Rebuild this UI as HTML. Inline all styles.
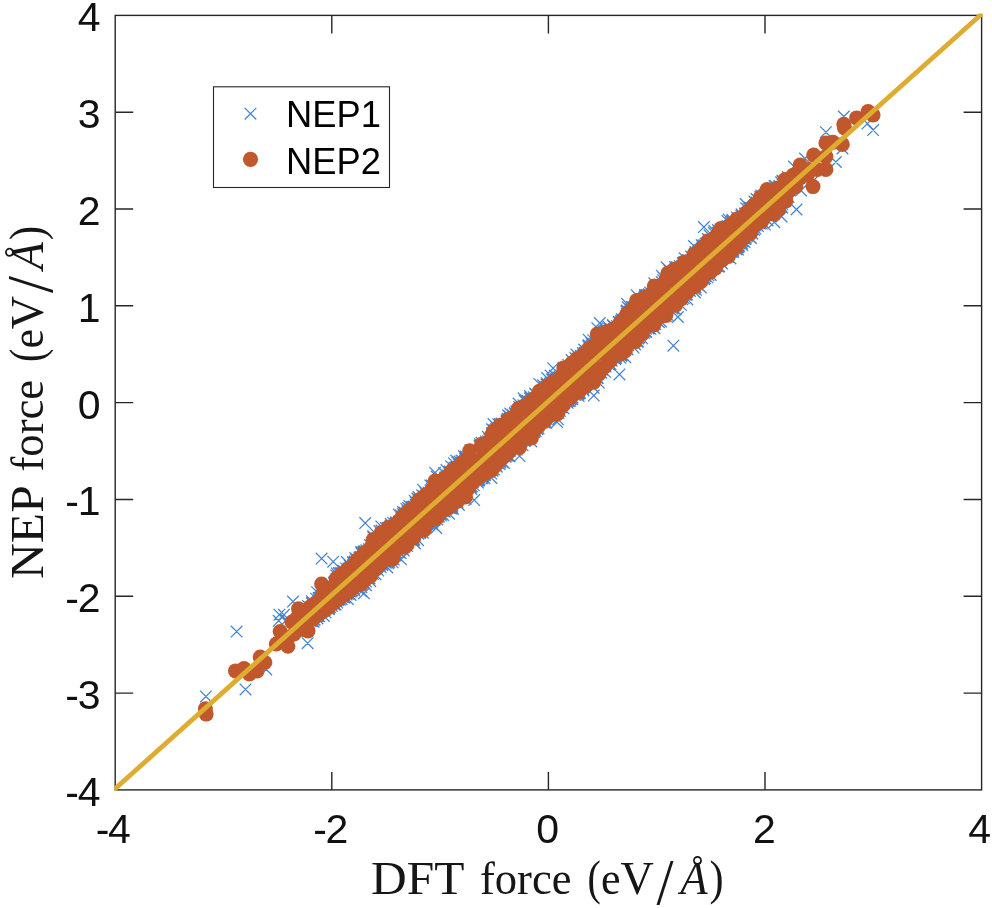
<!DOCTYPE html>
<html lang="en"><head><meta charset="utf-8"><title>NEP force vs DFT force</title>
<style>
html,body{margin:0;padding:0;background:#fff;}
body{width:992px;height:908px;overflow:hidden;}
svg{display:block;}
.tk{font-family:"Liberation Sans",Arial,Helvetica,sans-serif;font-size:41.0px;fill:#111;}
.lg{font-family:"Liberation Sans",Arial,Helvetica,sans-serif;font-size:36.3px;fill:#000;}
.lb{font-family:"Liberation Serif","Times New Roman",serif;font-size:45.8px;fill:#161616;}
.it{font-style:italic;}
</style></head><body>
<svg width="992" height="908" viewBox="0 0 992 908">
<rect x="0" y="0" width="992" height="908" fill="#fff"/>
<path d="M733.0 237.0l11.6 11.6m-11.6 0l11.6 -11.6M363.3 543.4l11.6 11.6m-11.6 0l11.6 -11.6M406.6 502.1l11.6 11.6m-11.6 0l11.6 -11.6M540.7 378.9l11.6 11.6m-11.6 0l11.6 -11.6M660.8 261.5l11.6 11.6m-11.6 0l11.6 -11.6M743.3 202.8l11.6 11.6m-11.6 0l11.6 -11.6M645.8 289.2l11.6 11.6m-11.6 0l11.6 -11.6M524.1 392.5l11.6 11.6m-11.6 0l11.6 -11.6M312.4 609.9l11.6 11.6m-11.6 0l11.6 -11.6M357.7 545.8l11.6 11.6m-11.6 0l11.6 -11.6M409.3 501.1l11.6 11.6m-11.6 0l11.6 -11.6M421.5 518.0l11.6 11.6m-11.6 0l11.6 -11.6M632.3 332.6l11.6 11.6m-11.6 0l11.6 -11.6M725.5 245.2l11.6 11.6m-11.6 0l11.6 -11.6M752.1 220.2l11.6 11.6m-11.6 0l11.6 -11.6M532.8 422.6l11.6 11.6m-11.6 0l11.6 -11.6M735.7 237.4l11.6 11.6m-11.6 0l11.6 -11.6M492.0 457.2l11.6 11.6m-11.6 0l11.6 -11.6M576.2 351.4l11.6 11.6m-11.6 0l11.6 -11.6M490.4 423.0l11.6 11.6m-11.6 0l11.6 -11.6M586.1 380.0l11.6 11.6m-11.6 0l11.6 -11.6M340.3 562.6l11.6 11.6m-11.6 0l11.6 -11.6M561.2 395.9l11.6 11.6m-11.6 0l11.6 -11.6M412.5 528.0l11.6 11.6m-11.6 0l11.6 -11.6M451.8 496.9l11.6 11.6m-11.6 0l11.6 -11.6M564.6 393.7l11.6 11.6m-11.6 0l11.6 -11.6M572.7 351.8l11.6 11.6m-11.6 0l11.6 -11.6M419.7 487.3l11.6 11.6m-11.6 0l11.6 -11.6M703.0 234.0l11.6 11.6m-11.6 0l11.6 -11.6M503.9 445.3l11.6 11.6m-11.6 0l11.6 -11.6M319.7 606.5l11.6 11.6m-11.6 0l11.6 -11.6M607.3 350.8l11.6 11.6m-11.6 0l11.6 -11.6M332.7 570.9l11.6 11.6m-11.6 0l11.6 -11.6M669.1 261.1l11.6 11.6m-11.6 0l11.6 -11.6M540.1 417.2l11.6 11.6m-11.6 0l11.6 -11.6M495.8 417.8l11.6 11.6m-11.6 0l11.6 -11.6M607.4 320.2l11.6 11.6m-11.6 0l11.6 -11.6M596.0 364.0l11.6 11.6m-11.6 0l11.6 -11.6M471.0 475.8l11.6 11.6m-11.6 0l11.6 -11.6M646.7 288.0l11.6 11.6m-11.6 0l11.6 -11.6M617.0 314.2l11.6 11.6m-11.6 0l11.6 -11.6M636.3 332.5l11.6 11.6m-11.6 0l11.6 -11.6M344.8 589.1l11.6 11.6m-11.6 0l11.6 -11.6M621.2 308.3l11.6 11.6m-11.6 0l11.6 -11.6M500.7 415.8l11.6 11.6m-11.6 0l11.6 -11.6M739.6 233.2l11.6 11.6m-11.6 0l11.6 -11.6M518.6 435.3l11.6 11.6m-11.6 0l11.6 -11.6M486.2 423.5l11.6 11.6m-11.6 0l11.6 -11.6M440.7 464.3l11.6 11.6m-11.6 0l11.6 -11.6M421.8 516.4l11.6 11.6m-11.6 0l11.6 -11.6M483.5 433.5l11.6 11.6m-11.6 0l11.6 -11.6M338.7 591.9l11.6 11.6m-11.6 0l11.6 -11.6M439.2 471.9l11.6 11.6m-11.6 0l11.6 -11.6M586.6 339.9l11.6 11.6m-11.6 0l11.6 -11.6M776.8 175.6l11.6 11.6m-11.6 0l11.6 -11.6M638.8 325.3l11.6 11.6m-11.6 0l11.6 -11.6M577.7 384.7l11.6 11.6m-11.6 0l11.6 -11.6M516.3 434.6l11.6 11.6m-11.6 0l11.6 -11.6M433.0 510.3l11.6 11.6m-11.6 0l11.6 -11.6M397.2 506.3l11.6 11.6m-11.6 0l11.6 -11.6M670.4 262.2l11.6 11.6m-11.6 0l11.6 -11.6M395.0 509.7l11.6 11.6m-11.6 0l11.6 -11.6M306.0 595.4l11.6 11.6m-11.6 0l11.6 -11.6M583.5 342.5l11.6 11.6m-11.6 0l11.6 -11.6M525.6 435.6l11.6 11.6m-11.6 0l11.6 -11.6M626.6 302.9l11.6 11.6m-11.6 0l11.6 -11.6M445.3 502.8l11.6 11.6m-11.6 0l11.6 -11.6M397.2 508.4l11.6 11.6m-11.6 0l11.6 -11.6M324.2 601.2l11.6 11.6m-11.6 0l11.6 -11.6M592.0 372.1l11.6 11.6m-11.6 0l11.6 -11.6M627.8 341.8l11.6 11.6m-11.6 0l11.6 -11.6M362.6 572.9l11.6 11.6m-11.6 0l11.6 -11.6M387.4 517.1l11.6 11.6m-11.6 0l11.6 -11.6M772.3 181.9l11.6 11.6m-11.6 0l11.6 -11.6M429.3 466.9l11.6 11.6m-11.6 0l11.6 -11.6M661.5 309.0l11.6 11.6m-11.6 0l11.6 -11.6M306.4 614.5l11.6 11.6m-11.6 0l11.6 -11.6M538.7 382.3l11.6 11.6m-11.6 0l11.6 -11.6M377.0 557.8l11.6 11.6m-11.6 0l11.6 -11.6M610.4 350.5l11.6 11.6m-11.6 0l11.6 -11.6M587.0 339.9l11.6 11.6m-11.6 0l11.6 -11.6M330.5 569.6l11.6 11.6m-11.6 0l11.6 -11.6M475.7 437.0l11.6 11.6m-11.6 0l11.6 -11.6M330.9 594.8l11.6 11.6m-11.6 0l11.6 -11.6M585.9 339.7l11.6 11.6m-11.6 0l11.6 -11.6M754.5 191.0l11.6 11.6m-11.6 0l11.6 -11.6M615.6 347.9l11.6 11.6m-11.6 0l11.6 -11.6M348.4 584.5l11.6 11.6m-11.6 0l11.6 -11.6M311.6 597.1l11.6 11.6m-11.6 0l11.6 -11.6M761.8 214.6l11.6 11.6m-11.6 0l11.6 -11.6M546.1 373.6l11.6 11.6m-11.6 0l11.6 -11.6M662.2 262.7l11.6 11.6m-11.6 0l11.6 -11.6M749.3 218.4l11.6 11.6m-11.6 0l11.6 -11.6M388.0 553.8l11.6 11.6m-11.6 0l11.6 -11.6M369.6 568.4l11.6 11.6m-11.6 0l11.6 -11.6M310.3 592.9l11.6 11.6m-11.6 0l11.6 -11.6M501.1 449.6l11.6 11.6m-11.6 0l11.6 -11.6M447.2 503.1l11.6 11.6m-11.6 0l11.6 -11.6M486.6 427.1l11.6 11.6m-11.6 0l11.6 -11.6M758.8 189.0l11.6 11.6m-11.6 0l11.6 -11.6M651.0 314.5l11.6 11.6m-11.6 0l11.6 -11.6M315.2 592.6l11.6 11.6m-11.6 0l11.6 -11.6M702.0 233.3l11.6 11.6m-11.6 0l11.6 -11.6M544.9 411.3l11.6 11.6m-11.6 0l11.6 -11.6M447.6 464.3l11.6 11.6m-11.6 0l11.6 -11.6M733.0 239.6l11.6 11.6m-11.6 0l11.6 -11.6M580.8 345.7l11.6 11.6m-11.6 0l11.6 -11.6M344.0 588.2l11.6 11.6m-11.6 0l11.6 -11.6M587.9 382.0l11.6 11.6m-11.6 0l11.6 -11.6M557.8 362.2l11.6 11.6m-11.6 0l11.6 -11.6M566.8 391.8l11.6 11.6m-11.6 0l11.6 -11.6M348.6 557.8l11.6 11.6m-11.6 0l11.6 -11.6M649.4 318.5l11.6 11.6m-11.6 0l11.6 -11.6M613.1 316.9l11.6 11.6m-11.6 0l11.6 -11.6M549.5 374.5l11.6 11.6m-11.6 0l11.6 -11.6M681.6 293.6l11.6 11.6m-11.6 0l11.6 -11.6M394.9 547.3l11.6 11.6m-11.6 0l11.6 -11.6M502.2 449.5l11.6 11.6m-11.6 0l11.6 -11.6M645.7 288.0l11.6 11.6m-11.6 0l11.6 -11.6M699.1 272.4l11.6 11.6m-11.6 0l11.6 -11.6M555.2 401.5l11.6 11.6m-11.6 0l11.6 -11.6M750.9 196.7l11.6 11.6m-11.6 0l11.6 -11.6M769.7 180.3l11.6 11.6m-11.6 0l11.6 -11.6M306.3 615.1l11.6 11.6m-11.6 0l11.6 -11.6M422.8 517.1l11.6 11.6m-11.6 0l11.6 -11.6M735.8 208.6l11.6 11.6m-11.6 0l11.6 -11.6M575.0 350.6l11.6 11.6m-11.6 0l11.6 -11.6M590.5 338.7l11.6 11.6m-11.6 0l11.6 -11.6M509.1 407.2l11.6 11.6m-11.6 0l11.6 -11.6M450.4 454.7l11.6 11.6m-11.6 0l11.6 -11.6M358.6 546.3l11.6 11.6m-11.6 0l11.6 -11.6M424.6 516.4l11.6 11.6m-11.6 0l11.6 -11.6M444.0 465.8l11.6 11.6m-11.6 0l11.6 -11.6M342.8 562.8l11.6 11.6m-11.6 0l11.6 -11.6M506.9 409.2l11.6 11.6m-11.6 0l11.6 -11.6M574.2 387.1l11.6 11.6m-11.6 0l11.6 -11.6M443.2 507.9l11.6 11.6m-11.6 0l11.6 -11.6M626.3 301.0l11.6 11.6m-11.6 0l11.6 -11.6M558.0 361.8l11.6 11.6m-11.6 0l11.6 -11.6M308.9 613.8l11.6 11.6m-11.6 0l11.6 -11.6M528.7 392.1l11.6 11.6m-11.6 0l11.6 -11.6M475.8 470.7l11.6 11.6m-11.6 0l11.6 -11.6M663.3 264.4l11.6 11.6m-11.6 0l11.6 -11.6M607.8 352.2l11.6 11.6m-11.6 0l11.6 -11.6M409.0 495.0l11.6 11.6m-11.6 0l11.6 -11.6M409.2 537.7l11.6 11.6m-11.6 0l11.6 -11.6M353.7 551.6l11.6 11.6m-11.6 0l11.6 -11.6M453.1 499.2l11.6 11.6m-11.6 0l11.6 -11.6M375.7 524.8l11.6 11.6m-11.6 0l11.6 -11.6M524.1 390.2l11.6 11.6m-11.6 0l11.6 -11.6M364.2 539.3l11.6 11.6m-11.6 0l11.6 -11.6M472.6 473.0l11.6 11.6m-11.6 0l11.6 -11.6M412.6 494.5l11.6 11.6m-11.6 0l11.6 -11.6M776.6 174.8l11.6 11.6m-11.6 0l11.6 -11.6M314.8 592.9l11.6 11.6m-11.6 0l11.6 -11.6M551.3 374.0l11.6 11.6m-11.6 0l11.6 -11.6M307.8 615.9l11.6 11.6m-11.6 0l11.6 -11.6M488.0 463.6l11.6 11.6m-11.6 0l11.6 -11.6M737.9 232.8l11.6 11.6m-11.6 0l11.6 -11.6M479.2 469.3l11.6 11.6m-11.6 0l11.6 -11.6M582.8 333.9l11.6 11.6m-11.6 0l11.6 -11.6M561.7 397.0l11.6 11.6m-11.6 0l11.6 -11.6M347.6 556.6l11.6 11.6m-11.6 0l11.6 -11.6M353.6 551.7l11.6 11.6m-11.6 0l11.6 -11.6M413.3 494.1l11.6 11.6m-11.6 0l11.6 -11.6M492.1 456.7l11.6 11.6m-11.6 0l11.6 -11.6M349.5 552.3l11.6 11.6m-11.6 0l11.6 -11.6M630.9 289.4l11.6 11.6m-11.6 0l11.6 -11.6M443.9 502.4l11.6 11.6m-11.6 0l11.6 -11.6M611.1 320.3l11.6 11.6m-11.6 0l11.6 -11.6M685.1 250.6l11.6 11.6m-11.6 0l11.6 -11.6M621.2 298.0l11.6 11.6m-11.6 0l11.6 -11.6M313.3 592.7l11.6 11.6m-11.6 0l11.6 -11.6M307.2 598.4l11.6 11.6m-11.6 0l11.6 -11.6M465.6 483.2l11.6 11.6m-11.6 0l11.6 -11.6M643.4 288.7l11.6 11.6m-11.6 0l11.6 -11.6M499.5 417.7l11.6 11.6m-11.6 0l11.6 -11.6M573.1 387.6l11.6 11.6m-11.6 0l11.6 -11.6M391.1 517.0l11.6 11.6m-11.6 0l11.6 -11.6M522.0 395.1l11.6 11.6m-11.6 0l11.6 -11.6M768.5 216.4l11.6 11.6m-11.6 0l11.6 -11.6M749.0 219.5l11.6 11.6m-11.6 0l11.6 -11.6M334.3 593.8l11.6 11.6m-11.6 0l11.6 -11.6M383.4 556.1l11.6 11.6m-11.6 0l11.6 -11.6M517.8 392.5l11.6 11.6m-11.6 0l11.6 -11.6M488.5 424.2l11.6 11.6m-11.6 0l11.6 -11.6M577.3 383.4l11.6 11.6m-11.6 0l11.6 -11.6M684.2 285.1l11.6 11.6m-11.6 0l11.6 -11.6M755.9 217.8l11.6 11.6m-11.6 0l11.6 -11.6M345.0 584.3l11.6 11.6m-11.6 0l11.6 -11.6M342.0 593.1l11.6 11.6m-11.6 0l11.6 -11.6M776.4 201.6l11.6 11.6m-11.6 0l11.6 -11.6M600.3 326.0l11.6 11.6m-11.6 0l11.6 -11.6M335.8 593.1l11.6 11.6m-11.6 0l11.6 -11.6M587.6 338.0l11.6 11.6m-11.6 0l11.6 -11.6M390.6 546.8l11.6 11.6m-11.6 0l11.6 -11.6M500.9 414.6l11.6 11.6m-11.6 0l11.6 -11.6M503.1 410.0l11.6 11.6m-11.6 0l11.6 -11.6M448.2 457.4l11.6 11.6m-11.6 0l11.6 -11.6M424.5 479.6l11.6 11.6m-11.6 0l11.6 -11.6M727.5 246.1l11.6 11.6m-11.6 0l11.6 -11.6M698.9 239.8l11.6 11.6m-11.6 0l11.6 -11.6M697.7 269.8l11.6 11.6m-11.6 0l11.6 -11.6M483.6 433.1l11.6 11.6m-11.6 0l11.6 -11.6M699.8 237.8l11.6 11.6m-11.6 0l11.6 -11.6M391.2 518.0l11.6 11.6m-11.6 0l11.6 -11.6M591.5 322.4l11.6 11.6m-11.6 0l11.6 -11.6M533.5 378.1l11.6 11.6m-11.6 0l11.6 -11.6M660.0 310.4l11.6 11.6m-11.6 0l11.6 -11.6M697.7 239.4l11.6 11.6m-11.6 0l11.6 -11.6M306.3 597.2l11.6 11.6m-11.6 0l11.6 -11.6M351.1 554.4l11.6 11.6m-11.6 0l11.6 -11.6M528.0 391.4l11.6 11.6m-11.6 0l11.6 -11.6M618.2 313.7l11.6 11.6m-11.6 0l11.6 -11.6M744.1 202.1l11.6 11.6m-11.6 0l11.6 -11.6M331.4 596.8l11.6 11.6m-11.6 0l11.6 -11.6M525.1 394.7l11.6 11.6m-11.6 0l11.6 -11.6M328.3 577.0l11.6 11.6m-11.6 0l11.6 -11.6M739.9 198.3l11.6 11.6m-11.6 0l11.6 -11.6M733.7 237.8l11.6 11.6m-11.6 0l11.6 -11.6M568.3 388.7l11.6 11.6m-11.6 0l11.6 -11.6M414.3 527.1l11.6 11.6m-11.6 0l11.6 -11.6M400.0 508.1l11.6 11.6m-11.6 0l11.6 -11.6M355.7 581.5l11.6 11.6m-11.6 0l11.6 -11.6M629.4 338.7l11.6 11.6m-11.6 0l11.6 -11.6M726.2 215.5l11.6 11.6m-11.6 0l11.6 -11.6M464.5 480.3l11.6 11.6m-11.6 0l11.6 -11.6M752.5 195.0l11.6 11.6m-11.6 0l11.6 -11.6M712.1 224.2l11.6 11.6m-11.6 0l11.6 -11.6M572.2 388.3l11.6 11.6m-11.6 0l11.6 -11.6M516.8 439.5l11.6 11.6m-11.6 0l11.6 -11.6M494.4 456.6l11.6 11.6m-11.6 0l11.6 -11.6M674.0 260.4l11.6 11.6m-11.6 0l11.6 -11.6M347.1 560.5l11.6 11.6m-11.6 0l11.6 -11.6M632.4 330.7l11.6 11.6m-11.6 0l11.6 -11.6M393.1 508.8l11.6 11.6m-11.6 0l11.6 -11.6M759.1 218.8l11.6 11.6m-11.6 0l11.6 -11.6M575.1 351.3l11.6 11.6m-11.6 0l11.6 -11.6M696.4 240.1l11.6 11.6m-11.6 0l11.6 -11.6M503.8 412.9l11.6 11.6m-11.6 0l11.6 -11.6M403.5 500.2l11.6 11.6m-11.6 0l11.6 -11.6M727.5 243.9l11.6 11.6m-11.6 0l11.6 -11.6M379.5 556.2l11.6 11.6m-11.6 0l11.6 -11.6M435.0 509.5l11.6 11.6m-11.6 0l11.6 -11.6M624.9 303.6l11.6 11.6m-11.6 0l11.6 -11.6M653.2 316.4l11.6 11.6m-11.6 0l11.6 -11.6M323.2 603.2l11.6 11.6m-11.6 0l11.6 -11.6M525.4 391.9l11.6 11.6m-11.6 0l11.6 -11.6M613.0 316.1l11.6 11.6m-11.6 0l11.6 -11.6M699.4 270.1l11.6 11.6m-11.6 0l11.6 -11.6M442.3 469.6l11.6 11.6m-11.6 0l11.6 -11.6M332.5 594.2l11.6 11.6m-11.6 0l11.6 -11.6M318.9 604.6l11.6 11.6m-11.6 0l11.6 -11.6M689.7 246.2l11.6 11.6m-11.6 0l11.6 -11.6M322.9 603.4l11.6 11.6m-11.6 0l11.6 -11.6M547.7 373.9l11.6 11.6m-11.6 0l11.6 -11.6M460.2 454.3l11.6 11.6m-11.6 0l11.6 -11.6M530.8 389.4l11.6 11.6m-11.6 0l11.6 -11.6M782.7 191.1l11.6 11.6m-11.6 0l11.6 -11.6M555.6 370.9l11.6 11.6m-11.6 0l11.6 -11.6M576.0 350.7l11.6 11.6m-11.6 0l11.6 -11.6M474.1 438.5l11.6 11.6m-11.6 0l11.6 -11.6M539.4 381.3l11.6 11.6m-11.6 0l11.6 -11.6M648.0 322.0l11.6 11.6m-11.6 0l11.6 -11.6M562.5 359.1l11.6 11.6m-11.6 0l11.6 -11.6M408.0 500.6l11.6 11.6m-11.6 0l11.6 -11.6M642.8 322.9l11.6 11.6m-11.6 0l11.6 -11.6M446.6 498.9l11.6 11.6m-11.6 0l11.6 -11.6M697.6 240.8l11.6 11.6m-11.6 0l11.6 -11.6M541.4 372.3l11.6 11.6m-11.6 0l11.6 -11.6M348.7 556.5l11.6 11.6m-11.6 0l11.6 -11.6M593.1 377.0l11.6 11.6m-11.6 0l11.6 -11.6M513.7 450.3l11.6 11.6m-11.6 0l11.6 -11.6M552.8 407.2l11.6 11.6m-11.6 0l11.6 -11.6M306.3 597.5l11.6 11.6m-11.6 0l11.6 -11.6M313.9 593.1l11.6 11.6m-11.6 0l11.6 -11.6M384.7 520.2l11.6 11.6m-11.6 0l11.6 -11.6M397.7 509.4l11.6 11.6m-11.6 0l11.6 -11.6M529.8 425.2l11.6 11.6m-11.6 0l11.6 -11.6M490.7 460.4l11.6 11.6m-11.6 0l11.6 -11.6M424.7 484.5l11.6 11.6m-11.6 0l11.6 -11.6M410.4 498.9l11.6 11.6m-11.6 0l11.6 -11.6M502.0 412.9l11.6 11.6m-11.6 0l11.6 -11.6M397.9 544.8l11.6 11.6m-11.6 0l11.6 -11.6M459.3 452.8l11.6 11.6m-11.6 0l11.6 -11.6M392.7 545.6l11.6 11.6m-11.6 0l11.6 -11.6M509.8 408.5l11.6 11.6m-11.6 0l11.6 -11.6M486.7 464.9l11.6 11.6m-11.6 0l11.6 -11.6M425.1 515.8l11.6 11.6m-11.6 0l11.6 -11.6M725.1 245.4l11.6 11.6m-11.6 0l11.6 -11.6M690.2 284.0l11.6 11.6m-11.6 0l11.6 -11.6M607.1 319.3l11.6 11.6m-11.6 0l11.6 -11.6M621.2 304.6l11.6 11.6m-11.6 0l11.6 -11.6M390.0 547.1l11.6 11.6m-11.6 0l11.6 -11.6M402.4 502.3l11.6 11.6m-11.6 0l11.6 -11.6M657.6 278.6l11.6 11.6m-11.6 0l11.6 -11.6M374.9 561.5l11.6 11.6m-11.6 0l11.6 -11.6M426.2 479.6l11.6 11.6m-11.6 0l11.6 -11.6M316.4 590.7l11.6 11.6m-11.6 0l11.6 -11.6M724.0 220.2l11.6 11.6m-11.6 0l11.6 -11.6M615.3 315.3l11.6 11.6m-11.6 0l11.6 -11.6M678.6 256.3l11.6 11.6m-11.6 0l11.6 -11.6M657.2 274.4l11.6 11.6m-11.6 0l11.6 -11.6M416.4 489.5l11.6 11.6m-11.6 0l11.6 -11.6M667.1 301.9l11.6 11.6m-11.6 0l11.6 -11.6M360.1 575.7l11.6 11.6m-11.6 0l11.6 -11.6M705.0 269.1l11.6 11.6m-11.6 0l11.6 -11.6M372.4 564.8l11.6 11.6m-11.6 0l11.6 -11.6M619.6 351.5l11.6 11.6m-11.6 0l11.6 -11.6M566.4 393.4l11.6 11.6m-11.6 0l11.6 -11.6M603.2 356.8l11.6 11.6m-11.6 0l11.6 -11.6M594.6 366.4l11.6 11.6m-11.6 0l11.6 -11.6M355.4 546.2l11.6 11.6m-11.6 0l11.6 -11.6M472.2 476.8l11.6 11.6m-11.6 0l11.6 -11.6M344.2 562.5l11.6 11.6m-11.6 0l11.6 -11.6M428.7 514.1l11.6 11.6m-11.6 0l11.6 -11.6M417.2 483.9l11.6 11.6m-11.6 0l11.6 -11.6M539.6 415.9l11.6 11.6m-11.6 0l11.6 -11.6M375.5 520.6l11.6 11.6m-11.6 0l11.6 -11.6M435.5 473.0l11.6 11.6m-11.6 0l11.6 -11.6M431.6 513.8l11.6 11.6m-11.6 0l11.6 -11.6M499.4 450.8l11.6 11.6m-11.6 0l11.6 -11.6M639.3 289.3l11.6 11.6m-11.6 0l11.6 -11.6M312.9 592.5l11.6 11.6m-11.6 0l11.6 -11.6M738.8 236.3l11.6 11.6m-11.6 0l11.6 -11.6M638.1 327.2l11.6 11.6m-11.6 0l11.6 -11.6M494.1 418.2l11.6 11.6m-11.6 0l11.6 -11.6M336.8 591.5l11.6 11.6m-11.6 0l11.6 -11.6M622.1 338.8l11.6 11.6m-11.6 0l11.6 -11.6M561.4 394.7l11.6 11.6m-11.6 0l11.6 -11.6M711.6 227.1l11.6 11.6m-11.6 0l11.6 -11.6M437.7 505.4l11.6 11.6m-11.6 0l11.6 -11.6M409.9 499.5l11.6 11.6m-11.6 0l11.6 -11.6M340.8 588.2l11.6 11.6m-11.6 0l11.6 -11.6M768.6 180.1l11.6 11.6m-11.6 0l11.6 -11.6M422.9 486.9l11.6 11.6m-11.6 0l11.6 -11.6M504.0 412.6l11.6 11.6m-11.6 0l11.6 -11.6M501.7 448.4l11.6 11.6m-11.6 0l11.6 -11.6M409.9 496.9l11.6 11.6m-11.6 0l11.6 -11.6M417.1 526.9l11.6 11.6m-11.6 0l11.6 -11.6M423.3 487.3l11.6 11.6m-11.6 0l11.6 -11.6M473.0 474.6l11.6 11.6m-11.6 0l11.6 -11.6M441.7 470.4l11.6 11.6m-11.6 0l11.6 -11.6M403.9 503.4l11.6 11.6m-11.6 0l11.6 -11.6M330.8 594.9l11.6 11.6m-11.6 0l11.6 -11.6M485.5 467.8l11.6 11.6m-11.6 0l11.6 -11.6M440.4 471.5l11.6 11.6m-11.6 0l11.6 -11.6M313.7 592.0l11.6 11.6m-11.6 0l11.6 -11.6M460.3 450.6l11.6 11.6m-11.6 0l11.6 -11.6M432.9 511.0l11.6 11.6m-11.6 0l11.6 -11.6M452.9 458.6l11.6 11.6m-11.6 0l11.6 -11.6M722.6 251.2l11.6 11.6m-11.6 0l11.6 -11.6M732.6 241.4l11.6 11.6m-11.6 0l11.6 -11.6M336.3 567.4l11.6 11.6m-11.6 0l11.6 -11.6M502.3 409.6l11.6 11.6m-11.6 0l11.6 -11.6M455.7 454.9l11.6 11.6m-11.6 0l11.6 -11.6M487.7 418.2l11.6 11.6m-11.6 0l11.6 -11.6M632.1 335.5l11.6 11.6m-11.6 0l11.6 -11.6M412.7 491.3l11.6 11.6m-11.6 0l11.6 -11.6M517.6 399.5l11.6 11.6m-11.6 0l11.6 -11.6M538.0 382.7l11.6 11.6m-11.6 0l11.6 -11.6M591.4 372.3l11.6 11.6m-11.6 0l11.6 -11.6M504.5 407.7l11.6 11.6m-11.6 0l11.6 -11.6M312.8 592.5l11.6 11.6m-11.6 0l11.6 -11.6M389.7 548.3l11.6 11.6m-11.6 0l11.6 -11.6M688.0 282.6l11.6 11.6m-11.6 0l11.6 -11.6M657.5 271.8l11.6 11.6m-11.6 0l11.6 -11.6M307.7 615.5l11.6 11.6m-11.6 0l11.6 -11.6M393.1 515.7l11.6 11.6m-11.6 0l11.6 -11.6M557.8 402.5l11.6 11.6m-11.6 0l11.6 -11.6M468.0 479.5l11.6 11.6m-11.6 0l11.6 -11.6M599.7 360.8l11.6 11.6m-11.6 0l11.6 -11.6M745.5 202.3l11.6 11.6m-11.6 0l11.6 -11.6M315.1 591.7l11.6 11.6m-11.6 0l11.6 -11.6M638.4 292.0l11.6 11.6m-11.6 0l11.6 -11.6M389.4 518.5l11.6 11.6m-11.6 0l11.6 -11.6M372.9 530.8l11.6 11.6m-11.6 0l11.6 -11.6M378.3 555.6l11.6 11.6m-11.6 0l11.6 -11.6M348.9 555.6l11.6 11.6m-11.6 0l11.6 -11.6M726.1 245.7l11.6 11.6m-11.6 0l11.6 -11.6M703.7 229.5l11.6 11.6m-11.6 0l11.6 -11.6M381.9 522.3l11.6 11.6m-11.6 0l11.6 -11.6M347.9 558.9l11.6 11.6m-11.6 0l11.6 -11.6M754.1 217.8l11.6 11.6m-11.6 0l11.6 -11.6M336.8 567.4l11.6 11.6m-11.6 0l11.6 -11.6M313.0 594.9l11.6 11.6m-11.6 0l11.6 -11.6M498.1 457.1l11.6 11.6m-11.6 0l11.6 -11.6M486.1 427.9l11.6 11.6m-11.6 0l11.6 -11.6M348.6 556.6l11.6 11.6m-11.6 0l11.6 -11.6M404.9 534.2l11.6 11.6m-11.6 0l11.6 -11.6M732.3 243.8l11.6 11.6m-11.6 0l11.6 -11.6M326.2 600.2l11.6 11.6m-11.6 0l11.6 -11.6M610.2 352.4l11.6 11.6m-11.6 0l11.6 -11.6M423.7 515.8l11.6 11.6m-11.6 0l11.6 -11.6M693.6 244.4l11.6 11.6m-11.6 0l11.6 -11.6M721.6 215.1l11.6 11.6m-11.6 0l11.6 -11.6M599.3 366.0l11.6 11.6m-11.6 0l11.6 -11.6M347.3 559.4l11.6 11.6m-11.6 0l11.6 -11.6M725.9 245.7l11.6 11.6m-11.6 0l11.6 -11.6M676.4 293.4l11.6 11.6m-11.6 0l11.6 -11.6M689.0 248.2l11.6 11.6m-11.6 0l11.6 -11.6M373.6 525.2l11.6 11.6m-11.6 0l11.6 -11.6M482.0 430.9l11.6 11.6m-11.6 0l11.6 -11.6M758.2 190.1l11.6 11.6m-11.6 0l11.6 -11.6M590.7 370.2l11.6 11.6m-11.6 0l11.6 -11.6M393.0 546.5l11.6 11.6m-11.6 0l11.6 -11.6M375.6 557.7l11.6 11.6m-11.6 0l11.6 -11.6M639.4 325.9l11.6 11.6m-11.6 0l11.6 -11.6M569.7 389.2l11.6 11.6m-11.6 0l11.6 -11.6M381.5 561.7l11.6 11.6m-11.6 0l11.6 -11.6M451.7 456.8l11.6 11.6m-11.6 0l11.6 -11.6M479.1 469.2l11.6 11.6m-11.6 0l11.6 -11.6M426.3 515.1l11.6 11.6m-11.6 0l11.6 -11.6M708.0 227.3l11.6 11.6m-11.6 0l11.6 -11.6M609.3 353.3l11.6 11.6m-11.6 0l11.6 -11.6M595.5 366.9l11.6 11.6m-11.6 0l11.6 -11.6M344.0 560.0l11.6 11.6m-11.6 0l11.6 -11.6M510.4 405.8l11.6 11.6m-11.6 0l11.6 -11.6M437.3 509.1l11.6 11.6m-11.6 0l11.6 -11.6M522.9 398.1l11.6 11.6m-11.6 0l11.6 -11.6M746.9 201.8l11.6 11.6m-11.6 0l11.6 -11.6M722.8 213.6l11.6 11.6m-11.6 0l11.6 -11.6M500.0 450.8l11.6 11.6m-11.6 0l11.6 -11.6M605.6 323.4l11.6 11.6m-11.6 0l11.6 -11.6M751.2 218.8l11.6 11.6m-11.6 0l11.6 -11.6M453.8 455.8l11.6 11.6m-11.6 0l11.6 -11.6M689.2 286.7l11.6 11.6m-11.6 0l11.6 -11.6M675.2 299.3l11.6 11.6m-11.6 0l11.6 -11.6M401.3 540.1l11.6 11.6m-11.6 0l11.6 -11.6M485.6 472.2l11.6 11.6m-11.6 0l11.6 -11.6M603.0 358.8l11.6 11.6m-11.6 0l11.6 -11.6M588.0 339.3l11.6 11.6m-11.6 0l11.6 -11.6M367.3 531.4l11.6 11.6m-11.6 0l11.6 -11.6M656.0 269.9l11.6 11.6m-11.6 0l11.6 -11.6M616.5 315.6l11.6 11.6m-11.6 0l11.6 -11.6M338.5 591.5l11.6 11.6m-11.6 0l11.6 -11.6M598.6 325.6l11.6 11.6m-11.6 0l11.6 -11.6M708.5 225.2l11.6 11.6m-11.6 0l11.6 -11.6M732.9 240.4l11.6 11.6m-11.6 0l11.6 -11.6M446.6 500.8l11.6 11.6m-11.6 0l11.6 -11.6M509.0 408.1l11.6 11.6m-11.6 0l11.6 -11.6M376.5 559.4l11.6 11.6m-11.6 0l11.6 -11.6M602.7 320.9l11.6 11.6m-11.6 0l11.6 -11.6M363.3 572.0l11.6 11.6m-11.6 0l11.6 -11.6M604.6 358.1l11.6 11.6m-11.6 0l11.6 -11.6M544.7 369.6l11.6 11.6m-11.6 0l11.6 -11.6M518.8 435.0l11.6 11.6m-11.6 0l11.6 -11.6M735.3 236.3l11.6 11.6m-11.6 0l11.6 -11.6M426.2 516.8l11.6 11.6m-11.6 0l11.6 -11.6M450.5 462.0l11.6 11.6m-11.6 0l11.6 -11.6M311.0 610.1l11.6 11.6m-11.6 0l11.6 -11.6M614.1 316.7l11.6 11.6m-11.6 0l11.6 -11.6M406.7 535.1l11.6 11.6m-11.6 0l11.6 -11.6M724.0 219.9l11.6 11.6m-11.6 0l11.6 -11.6M669.7 303.7l11.6 11.6m-11.6 0l11.6 -11.6M529.4 387.7l11.6 11.6m-11.6 0l11.6 -11.6M421.3 518.2l11.6 11.6m-11.6 0l11.6 -11.6M713.4 260.6l11.6 11.6m-11.6 0l11.6 -11.6M464.8 481.4l11.6 11.6m-11.6 0l11.6 -11.6M587.5 334.4l11.6 11.6m-11.6 0l11.6 -11.6M371.1 563.1l11.6 11.6m-11.6 0l11.6 -11.6M406.2 502.5l11.6 11.6m-11.6 0l11.6 -11.6M748.6 195.7l11.6 11.6m-11.6 0l11.6 -11.6M553.8 371.5l11.6 11.6m-11.6 0l11.6 -11.6M347.0 556.8l11.6 11.6m-11.6 0l11.6 -11.6M407.5 500.9l11.6 11.6m-11.6 0l11.6 -11.6M306.1 597.6l11.6 11.6m-11.6 0l11.6 -11.6M628.3 301.3l11.6 11.6m-11.6 0l11.6 -11.6M460.3 453.7l11.6 11.6m-11.6 0l11.6 -11.6M748.4 224.0l11.6 11.6m-11.6 0l11.6 -11.6M600.5 325.4l11.6 11.6m-11.6 0l11.6 -11.6M614.7 316.8l11.6 11.6m-11.6 0l11.6 -11.6M315.0 591.5l11.6 11.6m-11.6 0l11.6 -11.6M448.9 462.0l11.6 11.6m-11.6 0l11.6 -11.6M406.4 534.8l11.6 11.6m-11.6 0l11.6 -11.6M443.6 468.0l11.6 11.6m-11.6 0l11.6 -11.6M344.9 561.2l11.6 11.6m-11.6 0l11.6 -11.6M357.2 547.0l11.6 11.6m-11.6 0l11.6 -11.6M689.7 281.4l11.6 11.6m-11.6 0l11.6 -11.6M408.2 533.1l11.6 11.6m-11.6 0l11.6 -11.6M430.4 522.2l11.6 11.6m-11.6 0l11.6 -11.6M329.9 598.8l11.6 11.6m-11.6 0l11.6 -11.6M608.3 350.8l11.6 11.6m-11.6 0l11.6 -11.6M315.6 589.6l11.6 11.6m-11.6 0l11.6 -11.6M642.9 288.5l11.6 11.6m-11.6 0l11.6 -11.6M360.2 579.4l11.6 11.6m-11.6 0l11.6 -11.6M344.2 585.5l11.6 11.6m-11.6 0l11.6 -11.6M601.7 324.4l11.6 11.6m-11.6 0l11.6 -11.6M476.5 472.3l11.6 11.6m-11.6 0l11.6 -11.6M522.8 397.4l11.6 11.6m-11.6 0l11.6 -11.6M724.7 252.7l11.6 11.6m-11.6 0l11.6 -11.6M406.0 501.3l11.6 11.6m-11.6 0l11.6 -11.6M701.6 271.5l11.6 11.6m-11.6 0l11.6 -11.6M518.9 395.1l11.6 11.6m-11.6 0l11.6 -11.6M318.0 610.1l11.6 11.6m-11.6 0l11.6 -11.6M386.8 556.5l11.6 11.6m-11.6 0l11.6 -11.6M775.4 176.5l11.6 11.6m-11.6 0l11.6 -11.6M638.9 290.4l11.6 11.6m-11.6 0l11.6 -11.6M438.9 505.9l11.6 11.6m-11.6 0l11.6 -11.6M562.6 395.2l11.6 11.6m-11.6 0l11.6 -11.6M758.4 211.6l11.6 11.6m-11.6 0l11.6 -11.6M621.8 343.7l11.6 11.6m-11.6 0l11.6 -11.6M349.7 580.8l11.6 11.6m-11.6 0l11.6 -11.6M314.4 592.6l11.6 11.6m-11.6 0l11.6 -11.6M355.5 547.4l11.6 11.6m-11.6 0l11.6 -11.6M614.6 317.1l11.6 11.6m-11.6 0l11.6 -11.6M737.1 211.0l11.6 11.6m-11.6 0l11.6 -11.6M333.1 593.7l11.6 11.6m-11.6 0l11.6 -11.6M523.9 396.0l11.6 11.6m-11.6 0l11.6 -11.6M614.5 351.9l11.6 11.6m-11.6 0l11.6 -11.6M670.0 262.3l11.6 11.6m-11.6 0l11.6 -11.6M304.9 615.4l11.6 11.6m-11.6 0l11.6 -11.6M340.7 588.8l11.6 11.6m-11.6 0l11.6 -11.6M727.4 244.3l11.6 11.6m-11.6 0l11.6 -11.6M342.6 587.9l11.6 11.6m-11.6 0l11.6 -11.6M411.6 492.7l11.6 11.6m-11.6 0l11.6 -11.6M631.8 336.1l11.6 11.6m-11.6 0l11.6 -11.6M740.0 231.9l11.6 11.6m-11.6 0l11.6 -11.6M696.7 241.5l11.6 11.6m-11.6 0l11.6 -11.6M407.5 501.5l11.6 11.6m-11.6 0l11.6 -11.6M531.4 423.3l11.6 11.6m-11.6 0l11.6 -11.6M670.6 261.6l11.6 11.6m-11.6 0l11.6 -11.6M712.6 226.9l11.6 11.6m-11.6 0l11.6 -11.6M367.0 568.2l11.6 11.6m-11.6 0l11.6 -11.6M616.6 348.7l11.6 11.6m-11.6 0l11.6 -11.6M390.0 516.6l11.6 11.6m-11.6 0l11.6 -11.6M736.7 235.1l11.6 11.6m-11.6 0l11.6 -11.6M430.9 470.7l11.6 11.6m-11.6 0l11.6 -11.6M564.1 393.2l11.6 11.6m-11.6 0l11.6 -11.6M476.6 472.5l11.6 11.6m-11.6 0l11.6 -11.6M688.2 240.2l11.6 11.6m-11.6 0l11.6 -11.6M352.6 583.2l11.6 11.6m-11.6 0l11.6 -11.6M538.3 416.5l11.6 11.6m-11.6 0l11.6 -11.6M731.2 241.3l11.6 11.6m-11.6 0l11.6 -11.6M608.8 349.9l11.6 11.6m-11.6 0l11.6 -11.6M565.8 354.3l11.6 11.6m-11.6 0l11.6 -11.6M381.6 556.0l11.6 11.6m-11.6 0l11.6 -11.6M577.4 382.4l11.6 11.6m-11.6 0l11.6 -11.6M644.7 323.0l11.6 11.6m-11.6 0l11.6 -11.6M331.0 567.6l11.6 11.6m-11.6 0l11.6 -11.6M302.3 600.3l11.6 11.6m-11.6 0l11.6 -11.6M401.5 504.1l11.6 11.6m-11.6 0l11.6 -11.6M622.0 301.5l11.6 11.6m-11.6 0l11.6 -11.6M626.9 340.8l11.6 11.6m-11.6 0l11.6 -11.6M735.1 236.9l11.6 11.6m-11.6 0l11.6 -11.6M378.7 555.8l11.6 11.6m-11.6 0l11.6 -11.6M492.4 418.4l11.6 11.6m-11.6 0l11.6 -11.6M450.5 461.4l11.6 11.6m-11.6 0l11.6 -11.6M438.3 467.2l11.6 11.6m-11.6 0l11.6 -11.6M459.7 493.1l11.6 11.6m-11.6 0l11.6 -11.6M640.1 322.9l11.6 11.6m-11.6 0l11.6 -11.6M311.7 612.7l11.6 11.6m-11.6 0l11.6 -11.6M702.7 269.5l11.6 11.6m-11.6 0l11.6 -11.6M333.0 567.3l11.6 11.6m-11.6 0l11.6 -11.6M746.6 221.9l11.6 11.6m-11.6 0l11.6 -11.6M389.6 549.7l11.6 11.6m-11.6 0l11.6 -11.6M397.2 543.8l11.6 11.6m-11.6 0l11.6 -11.6M736.6 235.6l11.6 11.6m-11.6 0l11.6 -11.6M677.9 289.0l11.6 11.6m-11.6 0l11.6 -11.6M692.0 279.1l11.6 11.6m-11.6 0l11.6 -11.6M355.7 585.8l11.6 11.6m-11.6 0l11.6 -11.6M510.9 443.8l11.6 11.6m-11.6 0l11.6 -11.6M677.9 292.5l11.6 11.6m-11.6 0l11.6 -11.6M655.9 276.2l11.6 11.6m-11.6 0l11.6 -11.6M547.3 362.4l11.6 11.6m-11.6 0l11.6 -11.6M328.7 576.3l11.6 11.6m-11.6 0l11.6 -11.6M725.1 245.9l11.6 11.6m-11.6 0l11.6 -11.6M353.8 552.1l11.6 11.6m-11.6 0l11.6 -11.6M551.3 416.3l11.6 11.6m-11.6 0l11.6 -11.6M425.0 516.5l11.6 11.6m-11.6 0l11.6 -11.6M605.9 354.9l11.6 11.6m-11.6 0l11.6 -11.6M746.6 227.9l11.6 11.6m-11.6 0l11.6 -11.6M311.1 597.1l11.6 11.6m-11.6 0l11.6 -11.6M711.3 260.0l11.6 11.6m-11.6 0l11.6 -11.6M400.8 507.5l11.6 11.6m-11.6 0l11.6 -11.6M570.6 348.8l11.6 11.6m-11.6 0l11.6 -11.6M409.4 501.4l11.6 11.6m-11.6 0l11.6 -11.6M648.6 322.2l11.6 11.6m-11.6 0l11.6 -11.6M640.7 289.1l11.6 11.6m-11.6 0l11.6 -11.6M347.8 559.1l11.6 11.6m-11.6 0l11.6 -11.6M575.9 350.8l11.6 11.6m-11.6 0l11.6 -11.6M456.5 455.1l11.6 11.6m-11.6 0l11.6 -11.6M577.2 349.5l11.6 11.6m-11.6 0l11.6 -11.6M578.8 347.0l11.6 11.6m-11.6 0l11.6 -11.6M603.5 323.3l11.6 11.6m-11.6 0l11.6 -11.6M398.6 506.7l11.6 11.6m-11.6 0l11.6 -11.6M458.2 450.3l11.6 11.6m-11.6 0l11.6 -11.6M666.5 302.7l11.6 11.6m-11.6 0l11.6 -11.6M677.1 257.1l11.6 11.6m-11.6 0l11.6 -11.6M493.8 458.4l11.6 11.6m-11.6 0l11.6 -11.6M375.4 558.2l11.6 11.6m-11.6 0l11.6 -11.6M337.8 564.9l11.6 11.6m-11.6 0l11.6 -11.6M516.7 433.9l11.6 11.6m-11.6 0l11.6 -11.6M615.9 313.5l11.6 11.6m-11.6 0l11.6 -11.6M741.8 203.8l11.6 11.6m-11.6 0l11.6 -11.6M501.6 414.1l11.6 11.6m-11.6 0l11.6 -11.6M380.1 522.3l11.6 11.6m-11.6 0l11.6 -11.6M648.5 277.5l11.6 11.6m-11.6 0l11.6 -11.6M478.7 472.4l11.6 11.6m-11.6 0l11.6 -11.6M680.0 288.9l11.6 11.6m-11.6 0l11.6 -11.6M528.5 426.2l11.6 11.6m-11.6 0l11.6 -11.6M519.5 434.7l11.6 11.6m-11.6 0l11.6 -11.6M747.3 223.2l11.6 11.6m-11.6 0l11.6 -11.6M473.7 440.4l11.6 11.6m-11.6 0l11.6 -11.6M374.2 558.7l11.6 11.6m-11.6 0l11.6 -11.6M427.1 515.4l11.6 11.6m-11.6 0l11.6 -11.6M513.4 401.1l11.6 11.6m-11.6 0l11.6 -11.6M574.9 350.3l11.6 11.6m-11.6 0l11.6 -11.6M750.7 218.8l11.6 11.6m-11.6 0l11.6 -11.6M328.5 578.0l11.6 11.6m-11.6 0l11.6 -11.6M569.6 352.3l11.6 11.6m-11.6 0l11.6 -11.6M740.4 202.5l11.6 11.6m-11.6 0l11.6 -11.6M436.1 508.1l11.6 11.6m-11.6 0l11.6 -11.6M776.8 179.1l11.6 11.6m-11.6 0l11.6 -11.6M418.2 490.7l11.6 11.6m-11.6 0l11.6 -11.6M400.6 503.1l11.6 11.6m-11.6 0l11.6 -11.6M512.8 397.8l11.6 11.6m-11.6 0l11.6 -11.6M540.8 377.4l11.6 11.6m-11.6 0l11.6 -11.6M615.4 350.1l11.6 11.6m-11.6 0l11.6 -11.6M454.9 458.0l11.6 11.6m-11.6 0l11.6 -11.6M537.3 379.5l11.6 11.6m-11.6 0l11.6 -11.6M744.3 231.6l11.6 11.6m-11.6 0l11.6 -11.6M615.8 349.3l11.6 11.6m-11.6 0l11.6 -11.6M678.9 252.5l11.6 11.6m-11.6 0l11.6 -11.6M348.1 583.2l11.6 11.6m-11.6 0l11.6 -11.6M374.3 560.9l11.6 11.6m-11.6 0l11.6 -11.6M640.5 325.9l11.6 11.6m-11.6 0l11.6 -11.6M735.9 208.8l11.6 11.6m-11.6 0l11.6 -11.6M712.4 260.7l11.6 11.6m-11.6 0l11.6 -11.6M776.4 198.3l11.6 11.6m-11.6 0l11.6 -11.6M351.4 554.5l11.6 11.6m-11.6 0l11.6 -11.6M677.3 257.7l11.6 11.6m-11.6 0l11.6 -11.6M347.2 582.8l11.6 11.6m-11.6 0l11.6 -11.6M695.0 281.6l11.6 11.6m-11.6 0l11.6 -11.6M379.8 559.9l11.6 11.6m-11.6 0l11.6 -11.6M503.8 450.4l11.6 11.6m-11.6 0l11.6 -11.6M408.0 534.6l11.6 11.6m-11.6 0l11.6 -11.6M750.2 218.5l11.6 11.6m-11.6 0l11.6 -11.6M551.9 371.8l11.6 11.6m-11.6 0l11.6 -11.6M735.6 210.0l11.6 11.6m-11.6 0l11.6 -11.6M530.4 389.2l11.6 11.6m-11.6 0l11.6 -11.6M472.0 474.8l11.6 11.6m-11.6 0l11.6 -11.6M412.6 527.7l11.6 11.6m-11.6 0l11.6 -11.6M721.8 220.2l11.6 11.6m-11.6 0l11.6 -11.6M308.0 613.6l11.6 11.6m-11.6 0l11.6 -11.6M613.8 317.2l11.6 11.6m-11.6 0l11.6 -11.6M550.4 373.3l11.6 11.6m-11.6 0l11.6 -11.6M552.2 413.5l11.6 11.6m-11.6 0l11.6 -11.6M363.8 572.7l11.6 11.6m-11.6 0l11.6 -11.6M540.8 378.8l11.6 11.6m-11.6 0l11.6 -11.6M726.6 214.0l11.6 11.6m-11.6 0l11.6 -11.6M473.6 473.6l11.6 11.6m-11.6 0l11.6 -11.6M746.7 223.7l11.6 11.6m-11.6 0l11.6 -11.6M466.9 476.4l11.6 11.6m-11.6 0l11.6 -11.6M336.7 564.9l11.6 11.6m-11.6 0l11.6 -11.6M607.9 350.0l11.6 11.6m-11.6 0l11.6 -11.6M582.8 339.4l11.6 11.6m-11.6 0l11.6 -11.6M474.5 440.0l11.6 11.6m-11.6 0l11.6 -11.6M422.1 517.0l11.6 11.6m-11.6 0l11.6 -11.6M334.8 567.1l11.6 11.6m-11.6 0l11.6 -11.6M695.9 239.4l11.6 11.6m-11.6 0l11.6 -11.6M644.3 286.7l11.6 11.6m-11.6 0l11.6 -11.6M312.0 610.3l11.6 11.6m-11.6 0l11.6 -11.6M698.3 273.4l11.6 11.6m-11.6 0l11.6 -11.6M773.6 180.0l11.6 11.6m-11.6 0l11.6 -11.6M414.5 526.4l11.6 11.6m-11.6 0l11.6 -11.6M620.4 305.6l11.6 11.6m-11.6 0l11.6 -11.6M585.5 337.3l11.6 11.6m-11.6 0l11.6 -11.6M380.0 557.0l11.6 11.6m-11.6 0l11.6 -11.6M490.9 460.9l11.6 11.6m-11.6 0l11.6 -11.6M359.6 575.1l11.6 11.6m-11.6 0l11.6 -11.6M577.0 347.4l11.6 11.6m-11.6 0l11.6 -11.6M578.4 343.7l11.6 11.6m-11.6 0l11.6 -11.6M745.2 232.2l11.6 11.6m-11.6 0l11.6 -11.6M499.2 450.0l11.6 11.6m-11.6 0l11.6 -11.6M749.6 222.8l11.6 11.6m-11.6 0l11.6 -11.6M316.1 591.0l11.6 11.6m-11.6 0l11.6 -11.6M426.0 483.2l11.6 11.6m-11.6 0l11.6 -11.6M724.7 217.4l11.6 11.6m-11.6 0l11.6 -11.6M748.4 219.8l11.6 11.6m-11.6 0l11.6 -11.6M466.1 480.6l11.6 11.6m-11.6 0l11.6 -11.6M459.2 454.7l11.6 11.6m-11.6 0l11.6 -11.6M367.5 530.5l11.6 11.6m-11.6 0l11.6 -11.6M360.5 544.5l11.6 11.6m-11.6 0l11.6 -11.6M335.4 568.0l11.6 11.6m-11.6 0l11.6 -11.6M736.4 239.2l11.6 11.6m-11.6 0l11.6 -11.6M527.6 393.3l11.6 11.6m-11.6 0l11.6 -11.6M650.6 313.2l11.6 11.6m-11.6 0l11.6 -11.6M313.6 594.1l11.6 11.6m-11.6 0l11.6 -11.6M363.4 544.5l11.6 11.6m-11.6 0l11.6 -11.6M739.2 207.8l11.6 11.6m-11.6 0l11.6 -11.6M678.3 256.7l11.6 11.6m-11.6 0l11.6 -11.6M782.1 171.3l11.6 11.6m-11.6 0l11.6 -11.6M494.3 454.9l11.6 11.6m-11.6 0l11.6 -11.6M313.6 610.5l11.6 11.6m-11.6 0l11.6 -11.6M352.3 554.0l11.6 11.6m-11.6 0l11.6 -11.6M676.2 260.2l11.6 11.6m-11.6 0l11.6 -11.6M323.1 602.2l11.6 11.6m-11.6 0l11.6 -11.6M572.8 390.1l11.6 11.6m-11.6 0l11.6 -11.6M755.5 189.6l11.6 11.6m-11.6 0l11.6 -11.6M576.8 382.3l11.6 11.6m-11.6 0l11.6 -11.6M622.2 339.1l11.6 11.6m-11.6 0l11.6 -11.6M496.4 456.0l11.6 11.6m-11.6 0l11.6 -11.6M355.0 551.1l11.6 11.6m-11.6 0l11.6 -11.6M547.7 375.0l11.6 11.6m-11.6 0l11.6 -11.6M773.5 181.0l11.6 11.6m-11.6 0l11.6 -11.6M490.0 459.7l11.6 11.6m-11.6 0l11.6 -11.6M633.4 331.6l11.6 11.6m-11.6 0l11.6 -11.6M350.4 554.3l11.6 11.6m-11.6 0l11.6 -11.6M655.2 315.7l11.6 11.6m-11.6 0l11.6 -11.6M328.4 598.8l11.6 11.6m-11.6 0l11.6 -11.6M482.4 435.5l11.6 11.6m-11.6 0l11.6 -11.6M463.7 481.5l11.6 11.6m-11.6 0l11.6 -11.6M544.7 376.6l11.6 11.6m-11.6 0l11.6 -11.6M774.4 180.9l11.6 11.6m-11.6 0l11.6 -11.6M692.3 245.9l11.6 11.6m-11.6 0l11.6 -11.6M662.7 302.8l11.6 11.6m-11.6 0l11.6 -11.6M385.0 518.2l11.6 11.6m-11.6 0l11.6 -11.6M525.7 393.2l11.6 11.6m-11.6 0l11.6 -11.6M681.2 288.7l11.6 11.6m-11.6 0l11.6 -11.6M736.3 234.0l11.6 11.6m-11.6 0l11.6 -11.6M523.8 396.0l11.6 11.6m-11.6 0l11.6 -11.6M730.5 243.5l11.6 11.6m-11.6 0l11.6 -11.6M370.7 528.8l11.6 11.6m-11.6 0l11.6 -11.6M423.5 518.4l11.6 11.6m-11.6 0l11.6 -11.6M564.1 395.3l11.6 11.6m-11.6 0l11.6 -11.6M435.2 507.6l11.6 11.6m-11.6 0l11.6 -11.6M311.3 586.4l11.6 11.6m-11.6 0l11.6 -11.6M734.8 236.2l11.6 11.6m-11.6 0l11.6 -11.6M423.1 516.2l11.6 11.6m-11.6 0l11.6 -11.6M445.3 460.4l11.6 11.6m-11.6 0l11.6 -11.6M401.6 505.5l11.6 11.6m-11.6 0l11.6 -11.6M332.7 571.3l11.6 11.6m-11.6 0l11.6 -11.6M554.1 405.2l11.6 11.6m-11.6 0l11.6 -11.6M716.2 257.7l11.6 11.6m-11.6 0l11.6 -11.6M382.4 557.4l11.6 11.6m-11.6 0l11.6 -11.6M356.4 548.5l11.6 11.6m-11.6 0l11.6 -11.6M480.2 435.6l11.6 11.6m-11.6 0l11.6 -11.6M412.4 534.4l11.6 11.6m-11.6 0l11.6 -11.6M341.1 556.2l11.6 11.6m-11.6 0l11.6 -11.6M391.2 543.8l11.6 11.6m-11.6 0l11.6 -11.6M744.5 202.1l11.6 11.6m-11.6 0l11.6 -11.6M682.5 254.4l11.6 11.6m-11.6 0l11.6 -11.6M395.5 512.1l11.6 11.6m-11.6 0l11.6 -11.6M689.9 247.0l11.6 11.6m-11.6 0l11.6 -11.6M582.4 340.4l11.6 11.6m-11.6 0l11.6 -11.6M743.8 201.8l11.6 11.6m-11.6 0l11.6 -11.6M736.0 237.6l11.6 11.6m-11.6 0l11.6 -11.6M486.2 427.5l11.6 11.6m-11.6 0l11.6 -11.6M556.2 401.5l11.6 11.6m-11.6 0l11.6 -11.6M741.1 230.5l11.6 11.6m-11.6 0l11.6 -11.6M510.9 405.7l11.6 11.6m-11.6 0l11.6 -11.6M473.3 471.5l11.6 11.6m-11.6 0l11.6 -11.6M456.4 456.9l11.6 11.6m-11.6 0l11.6 -11.6M426.3 518.4l11.6 11.6m-11.6 0l11.6 -11.6M525.1 394.6l11.6 11.6m-11.6 0l11.6 -11.6M464.3 481.9l11.6 11.6m-11.6 0l11.6 -11.6M731.6 243.2l11.6 11.6m-11.6 0l11.6 -11.6M358.8 545.5l11.6 11.6m-11.6 0l11.6 -11.6M731.2 211.6l11.6 11.6m-11.6 0l11.6 -11.6M461.5 452.4l11.6 11.6m-11.6 0l11.6 -11.6M364.5 575.4l11.6 11.6m-11.6 0l11.6 -11.6M529.9 388.8l11.6 11.6m-11.6 0l11.6 -11.6M549.0 369.7l11.6 11.6m-11.6 0l11.6 -11.6M390.3 517.6l11.6 11.6m-11.6 0l11.6 -11.6M464.6 444.4l11.6 11.6m-11.6 0l11.6 -11.6M434.5 508.4l11.6 11.6m-11.6 0l11.6 -11.6M230.8 625.8l11.6 11.6m-11.6 0l11.6 -11.6M200.1 690.6l11.6 11.6m-11.6 0l11.6 -11.6M239.7 683.6l11.6 11.6m-11.6 0l11.6 -11.6M273.6 608.9l11.6 11.6m-11.6 0l11.6 -11.6M280.6 614.3l11.6 11.6m-11.6 0l11.6 -11.6M272.9 615.0l11.6 11.6m-11.6 0l11.6 -11.6M301.8 637.4l11.6 11.6m-11.6 0l11.6 -11.6M260.5 663.6l11.6 11.6m-11.6 0l11.6 -11.6M287.2 595.8l11.6 11.6m-11.6 0l11.6 -11.6M278.1 609.0l11.6 11.6m-11.6 0l11.6 -11.6M359.4 517.3l11.6 11.6m-11.6 0l11.6 -11.6M315.8 552.8l11.6 11.6m-11.6 0l11.6 -11.6M327.4 555.9l11.6 11.6m-11.6 0l11.6 -11.6M358.2 587.5l11.6 11.6m-11.6 0l11.6 -11.6M395.2 553.5l11.6 11.6m-11.6 0l11.6 -11.6M867.3 124.3l11.6 11.6m-11.6 0l11.6 -11.6M820.1 126.4l11.6 11.6m-11.6 0l11.6 -11.6M838.0 110.7l11.6 11.6m-11.6 0l11.6 -11.6M861.6 117.8l11.6 11.6m-11.6 0l11.6 -11.6M830.1 156.2l11.6 11.6m-11.6 0l11.6 -11.6M790.7 203.7l11.6 11.6m-11.6 0l11.6 -11.6M788.2 160.7l11.6 11.6m-11.6 0l11.6 -11.6M799.2 152.7l11.6 11.6m-11.6 0l11.6 -11.6M807.7 174.7l11.6 11.6m-11.6 0l11.6 -11.6M795.2 184.7l11.6 11.6m-11.6 0l11.6 -11.6M750.7 193.2l11.6 11.6m-11.6 0l11.6 -11.6M775.7 210.7l11.6 11.6m-11.6 0l11.6 -11.6M836.7 142.7l11.6 11.6m-11.6 0l11.6 -11.6M698.1 221.3l11.6 11.6m-11.6 0l11.6 -11.6M672.1 311.2l11.6 11.6m-11.6 0l11.6 -11.6M667.6 339.9l11.6 11.6m-11.6 0l11.6 -11.6M613.7 368.6l11.6 11.6m-11.6 0l11.6 -11.6M594.0 317.2l11.6 11.6m-11.6 0l11.6 -11.6M588.0 389.8l11.6 11.6m-11.6 0l11.6 -11.6M468.4 494.3l11.6 11.6m-11.6 0l11.6 -11.6" fill="none" stroke="#4485cf" stroke-width="1.25"/>
<g fill="#c1572c">
<circle cx="322.0" cy="597.2" r="7.5"/><circle cx="483.8" cy="450.6" r="7.5"/><circle cx="538.6" cy="426.1" r="7.5"/><circle cx="497.8" cy="462.2" r="7.5"/><circle cx="457.6" cy="501.2" r="7.5"/><circle cx="664.4" cy="292.4" r="7.5"/><circle cx="677.9" cy="292.4" r="7.5"/><circle cx="425.5" cy="495.1" r="7.5"/><circle cx="399.4" cy="547.4" r="7.5"/><circle cx="638.3" cy="326.3" r="7.5"/><circle cx="674.9" cy="269.3" r="7.5"/><circle cx="667.9" cy="301.4" r="7.5"/><circle cx="545.9" cy="419.7" r="7.5"/><circle cx="601.8" cy="369.2" r="7.5"/><circle cx="586.8" cy="373.0" r="7.5"/><circle cx="715.6" cy="249.5" r="7.5"/><circle cx="642.1" cy="333.9" r="7.5"/><circle cx="492.0" cy="434.6" r="7.5"/><circle cx="446.5" cy="477.6" r="7.5"/><circle cx="344.5" cy="594.9" r="7.5"/><circle cx="468.5" cy="488.0" r="7.5"/><circle cx="701.2" cy="280.0" r="7.5"/><circle cx="533.3" cy="418.9" r="7.5"/><circle cx="442.8" cy="497.4" r="7.5"/><circle cx="524.7" cy="427.7" r="7.5"/><circle cx="531.4" cy="438.0" r="7.5"/><circle cx="632.4" cy="308.9" r="7.5"/><circle cx="412.8" cy="521.0" r="7.5"/><circle cx="444.5" cy="509.7" r="7.5"/><circle cx="679.1" cy="268.3" r="7.5"/><circle cx="368.4" cy="577.2" r="7.5"/><circle cx="435.1" cy="481.1" r="7.5"/><circle cx="312.2" cy="619.3" r="7.5"/><circle cx="431.3" cy="495.8" r="7.5"/><circle cx="336.3" cy="578.4" r="7.5"/><circle cx="481.5" cy="444.3" r="7.5"/><circle cx="760.3" cy="197.6" r="7.5"/><circle cx="395.7" cy="538.1" r="7.5"/><circle cx="668.0" cy="273.0" r="7.5"/><circle cx="393.8" cy="553.2" r="7.5"/><circle cx="375.4" cy="569.5" r="7.5"/><circle cx="536.1" cy="428.1" r="7.5"/><circle cx="544.7" cy="406.3" r="7.5"/><circle cx="707.8" cy="241.1" r="7.5"/><circle cx="666.4" cy="278.2" r="7.5"/><circle cx="349.8" cy="591.0" r="7.5"/><circle cx="593.7" cy="382.2" r="7.5"/><circle cx="563.6" cy="373.1" r="7.5"/><circle cx="687.4" cy="292.2" r="7.5"/><circle cx="741.6" cy="217.7" r="7.5"/><circle cx="456.2" cy="467.7" r="7.5"/><circle cx="364.4" cy="552.8" r="7.5"/><circle cx="770.9" cy="198.2" r="7.5"/><circle cx="649.9" cy="315.5" r="7.5"/><circle cx="529.9" cy="413.6" r="7.5"/><circle cx="449.0" cy="507.8" r="7.5"/><circle cx="563.8" cy="367.9" r="7.5"/><circle cx="314.7" cy="617.1" r="7.5"/><circle cx="421.2" cy="509.8" r="7.5"/><circle cx="786.5" cy="193.9" r="7.5"/><circle cx="529.9" cy="402.6" r="7.5"/><circle cx="466.9" cy="489.8" r="7.5"/><circle cx="611.6" cy="337.9" r="7.5"/><circle cx="424.6" cy="529.6" r="7.5"/><circle cx="743.7" cy="237.6" r="7.5"/><circle cx="588.6" cy="349.4" r="7.5"/><circle cx="365.1" cy="579.6" r="7.5"/><circle cx="419.1" cy="499.9" r="7.5"/><circle cx="636.7" cy="300.6" r="7.5"/><circle cx="690.9" cy="260.1" r="7.5"/><circle cx="627.0" cy="313.8" r="7.5"/><circle cx="313.0" cy="604.8" r="7.5"/><circle cx="471.4" cy="483.2" r="7.5"/><circle cx="578.9" cy="391.9" r="7.5"/><circle cx="599.3" cy="343.9" r="7.5"/><circle cx="774.3" cy="214.1" r="7.5"/><circle cx="340.1" cy="597.7" r="7.5"/><circle cx="523.6" cy="406.6" r="7.5"/><circle cx="520.9" cy="440.6" r="7.5"/><circle cx="690.0" cy="289.3" r="7.5"/><circle cx="493.8" cy="431.1" r="7.5"/><circle cx="761.7" cy="221.6" r="7.5"/><circle cx="597.3" cy="334.1" r="7.5"/><circle cx="539.3" cy="391.2" r="7.5"/><circle cx="665.8" cy="315.4" r="7.5"/><circle cx="333.8" cy="590.2" r="7.5"/><circle cx="530.9" cy="401.8" r="7.5"/><circle cx="629.3" cy="331.8" r="7.5"/><circle cx="635.2" cy="341.8" r="7.5"/><circle cx="756.6" cy="222.7" r="7.5"/><circle cx="717.9" cy="234.0" r="7.5"/><circle cx="373.5" cy="558.1" r="7.5"/><circle cx="753.0" cy="224.1" r="7.5"/><circle cx="398.9" cy="521.1" r="7.5"/><circle cx="681.5" cy="289.8" r="7.5"/><circle cx="764.9" cy="216.2" r="7.5"/><circle cx="323.2" cy="594.6" r="7.5"/><circle cx="776.4" cy="189.2" r="7.5"/><circle cx="328.7" cy="607.5" r="7.5"/><circle cx="607.3" cy="331.4" r="7.5"/><circle cx="466.0" cy="460.4" r="7.5"/><circle cx="514.7" cy="440.5" r="7.5"/><circle cx="653.8" cy="325.0" r="7.5"/><circle cx="648.6" cy="325.7" r="7.5"/><circle cx="703.4" cy="247.0" r="7.5"/><circle cx="547.2" cy="386.1" r="7.5"/><circle cx="598.9" cy="374.0" r="7.5"/><circle cx="519.5" cy="447.4" r="7.5"/><circle cx="730.9" cy="250.8" r="7.5"/><circle cx="612.9" cy="329.0" r="7.5"/><circle cx="408.2" cy="512.1" r="7.5"/><circle cx="448.4" cy="497.1" r="7.5"/><circle cx="432.0" cy="489.9" r="7.5"/><circle cx="684.4" cy="262.1" r="7.5"/><circle cx="663.0" cy="285.0" r="7.5"/><circle cx="337.3" cy="599.5" r="7.5"/><circle cx="422.2" cy="498.1" r="7.5"/><circle cx="551.8" cy="414.7" r="7.5"/><circle cx="702.9" cy="265.4" r="7.5"/><circle cx="710.8" cy="271.6" r="7.5"/><circle cx="378.2" cy="565.9" r="7.5"/><circle cx="625.4" cy="350.6" r="7.5"/><circle cx="478.0" cy="477.7" r="7.5"/><circle cx="649.0" cy="296.4" r="7.5"/><circle cx="381.3" cy="532.4" r="7.5"/><circle cx="437.4" cy="517.3" r="7.5"/><circle cx="645.1" cy="297.1" r="7.5"/><circle cx="318.7" cy="601.5" r="7.5"/><circle cx="707.5" cy="256.1" r="7.5"/><circle cx="444.5" cy="487.0" r="7.5"/><circle cx="499.9" cy="425.6" r="7.5"/><circle cx="353.4" cy="580.0" r="7.5"/><circle cx="571.2" cy="397.3" r="7.5"/><circle cx="507.5" cy="453.6" r="7.5"/><circle cx="409.7" cy="509.8" r="7.5"/><circle cx="404.6" cy="547.3" r="7.5"/><circle cx="494.7" cy="450.8" r="7.5"/><circle cx="456.7" cy="489.4" r="7.5"/><circle cx="728.4" cy="256.4" r="7.5"/><circle cx="508.1" cy="419.9" r="7.5"/><circle cx="320.1" cy="613.3" r="7.5"/><circle cx="551.0" cy="410.6" r="7.5"/><circle cx="510.3" cy="418.6" r="7.5"/><circle cx="355.1" cy="585.9" r="7.5"/><circle cx="563.6" cy="404.8" r="7.5"/><circle cx="473.8" cy="481.1" r="7.5"/><circle cx="510.3" cy="450.4" r="7.5"/><circle cx="769.1" cy="206.1" r="7.5"/><circle cx="568.4" cy="389.0" r="7.5"/><circle cx="691.6" cy="271.8" r="7.5"/><circle cx="504.6" cy="455.8" r="7.5"/><circle cx="501.1" cy="445.2" r="7.5"/><circle cx="727.4" cy="227.3" r="7.5"/><circle cx="605.1" cy="366.5" r="7.5"/><circle cx="353.2" cy="587.6" r="7.5"/><circle cx="487.8" cy="442.4" r="7.5"/><circle cx="478.8" cy="460.4" r="7.5"/><circle cx="713.8" cy="238.3" r="7.5"/><circle cx="516.2" cy="414.0" r="7.5"/><circle cx="660.8" cy="303.4" r="7.5"/><circle cx="548.0" cy="395.0" r="7.5"/><circle cx="695.0" cy="286.4" r="7.5"/><circle cx="681.0" cy="298.9" r="7.5"/><circle cx="758.2" cy="217.0" r="7.5"/><circle cx="407.1" cy="544.8" r="7.5"/><circle cx="676.1" cy="283.3" r="7.5"/><circle cx="491.4" cy="470.5" r="7.5"/><circle cx="608.8" cy="361.7" r="7.5"/><circle cx="715.3" cy="268.2" r="7.5"/><circle cx="760.8" cy="206.2" r="7.5"/><circle cx="622.3" cy="321.5" r="7.5"/><circle cx="666.9" cy="308.8" r="7.5"/><circle cx="738.7" cy="242.7" r="7.5"/><circle cx="651.5" cy="306.1" r="7.5"/><circle cx="452.4" cy="504.3" r="7.5"/><circle cx="560.7" cy="392.9" r="7.5"/><circle cx="611.6" cy="358.3" r="7.5"/><circle cx="474.8" cy="480.1" r="7.5"/><circle cx="610.4" cy="360.7" r="7.5"/><circle cx="618.2" cy="353.3" r="7.5"/><circle cx="357.6" cy="574.6" r="7.5"/><circle cx="619.9" cy="323.1" r="7.5"/><circle cx="538.6" cy="410.2" r="7.5"/><circle cx="557.7" cy="385.9" r="7.5"/><circle cx="675.5" cy="305.2" r="7.5"/><circle cx="535.2" cy="397.9" r="7.5"/><circle cx="593.3" cy="346.2" r="7.5"/><circle cx="754.4" cy="204.8" r="7.5"/><circle cx="559.6" cy="378.0" r="7.5"/><circle cx="368.6" cy="550.7" r="7.5"/><circle cx="350.7" cy="567.5" r="7.5"/><circle cx="436.2" cy="518.3" r="7.5"/><circle cx="614.1" cy="355.2" r="7.5"/><circle cx="516.6" cy="428.1" r="7.5"/><circle cx="577.6" cy="374.5" r="7.5"/><circle cx="524.7" cy="406.0" r="7.5"/><circle cx="392.6" cy="558.9" r="7.5"/><circle cx="653.1" cy="293.6" r="7.5"/><circle cx="485.2" cy="463.1" r="7.5"/><circle cx="627.6" cy="344.2" r="7.5"/><circle cx="365.0" cy="566.0" r="7.5"/><circle cx="581.9" cy="368.5" r="7.5"/><circle cx="348.4" cy="592.0" r="7.5"/><circle cx="417.4" cy="503.4" r="7.5"/><circle cx="411.2" cy="522.4" r="7.5"/><circle cx="592.5" cy="365.6" r="7.5"/><circle cx="618.2" cy="336.9" r="7.5"/><circle cx="475.6" cy="469.0" r="7.5"/><circle cx="505.1" cy="433.0" r="7.5"/><circle cx="694.0" cy="254.5" r="7.5"/><circle cx="544.1" cy="421.5" r="7.5"/><circle cx="425.3" cy="524.9" r="7.5"/><circle cx="571.6" cy="363.3" r="7.5"/><circle cx="498.2" cy="427.6" r="7.5"/><circle cx="438.3" cy="515.3" r="7.5"/><circle cx="444.1" cy="479.1" r="7.5"/><circle cx="465.5" cy="496.9" r="7.5"/><circle cx="551.0" cy="383.9" r="7.5"/><circle cx="317.5" cy="614.7" r="7.5"/><circle cx="708.5" cy="272.7" r="7.5"/><circle cx="320.4" cy="613.0" r="7.5"/><circle cx="361.5" cy="584.2" r="7.5"/><circle cx="324.1" cy="610.8" r="7.5"/><circle cx="553.1" cy="381.8" r="7.5"/><circle cx="603.8" cy="353.0" r="7.5"/><circle cx="334.5" cy="584.8" r="7.5"/><circle cx="720.8" cy="228.6" r="7.5"/><circle cx="557.1" cy="413.9" r="7.5"/><circle cx="503.2" cy="432.8" r="7.5"/><circle cx="576.4" cy="359.3" r="7.5"/><circle cx="424.3" cy="514.3" r="7.5"/><circle cx="654.4" cy="321.9" r="7.5"/><circle cx="740.3" cy="225.1" r="7.5"/><circle cx="462.3" cy="462.8" r="7.5"/><circle cx="533.8" cy="431.6" r="7.5"/><circle cx="387.1" cy="538.5" r="7.5"/><circle cx="687.7" cy="278.1" r="7.5"/><circle cx="654.3" cy="286.1" r="7.5"/><circle cx="484.5" cy="474.0" r="7.5"/><circle cx="731.6" cy="235.6" r="7.5"/><circle cx="553.1" cy="396.2" r="7.5"/><circle cx="596.4" cy="354.7" r="7.5"/><circle cx="746.2" cy="212.9" r="7.5"/><circle cx="441.9" cy="511.3" r="7.5"/><circle cx="518.6" cy="408.4" r="7.5"/><circle cx="403.3" cy="515.6" r="7.5"/><circle cx="543.1" cy="389.4" r="7.5"/><circle cx="750.1" cy="233.7" r="7.5"/><circle cx="621.6" cy="353.4" r="7.5"/><circle cx="609.8" cy="347.2" r="7.5"/><circle cx="436.9" cy="508.3" r="7.5"/><circle cx="380.1" cy="563.9" r="7.5"/><circle cx="615.1" cy="349.3" r="7.5"/><circle cx="727.6" cy="243.8" r="7.5"/><circle cx="718.2" cy="262.7" r="7.5"/><circle cx="782.2" cy="200.7" r="7.5"/><circle cx="428.0" cy="504.7" r="7.5"/><circle cx="700.8" cy="281.7" r="7.5"/><circle cx="308.2" cy="616.6" r="7.5"/><circle cx="413.8" cy="537.7" r="7.5"/><circle cx="558.0" cy="412.4" r="7.5"/><circle cx="466.9" cy="473.9" r="7.5"/><circle cx="381.3" cy="562.3" r="7.5"/><circle cx="342.5" cy="573.5" r="7.5"/><circle cx="576.4" cy="388.0" r="7.5"/><circle cx="342.2" cy="581.4" r="7.5"/><circle cx="589.0" cy="359.3" r="7.5"/><circle cx="704.1" cy="274.6" r="7.5"/><circle cx="626.2" cy="315.7" r="7.5"/><circle cx="388.7" cy="544.1" r="7.5"/><circle cx="359.2" cy="558.3" r="7.5"/><circle cx="404.0" cy="533.2" r="7.5"/><circle cx="584.2" cy="353.5" r="7.5"/><circle cx="730.5" cy="225.2" r="7.5"/><circle cx="469.7" cy="450.7" r="7.5"/><circle cx="520.1" cy="423.7" r="7.5"/><circle cx="373.3" cy="539.6" r="7.5"/><circle cx="341.2" cy="575.1" r="7.5"/><circle cx="508.0" cy="435.5" r="7.5"/><circle cx="639.6" cy="321.1" r="7.5"/><circle cx="633.1" cy="318.0" r="7.5"/><circle cx="380.1" cy="549.1" r="7.5"/><circle cx="700.8" cy="249.5" r="7.5"/><circle cx="492.8" cy="455.1" r="7.5"/><circle cx="502.2" cy="458.3" r="7.5"/><circle cx="732.4" cy="223.2" r="7.5"/><circle cx="676.0" cy="275.8" r="7.5"/><circle cx="356.2" cy="561.2" r="7.5"/><circle cx="661.0" cy="316.1" r="7.5"/><circle cx="666.0" cy="280.0" r="7.5"/><circle cx="334.2" cy="602.8" r="7.5"/><circle cx="570.4" cy="377.8" r="7.5"/><circle cx="639.7" cy="307.2" r="7.5"/><circle cx="736.3" cy="247.1" r="7.5"/><circle cx="371.4" cy="546.8" r="7.5"/><circle cx="569.9" cy="397.9" r="7.5"/><circle cx="451.1" cy="471.5" r="7.5"/><circle cx="741.7" cy="239.8" r="7.5"/><circle cx="559.9" cy="408.0" r="7.5"/><circle cx="752.4" cy="227.5" r="7.5"/><circle cx="495.5" cy="465.5" r="7.5"/><circle cx="388.2" cy="559.1" r="7.5"/><circle cx="418.2" cy="531.5" r="7.5"/><circle cx="346.9" cy="570.0" r="7.5"/><circle cx="401.3" cy="518.6" r="7.5"/><circle cx="457.2" cy="480.4" r="7.5"/><circle cx="722.5" cy="259.6" r="7.5"/><circle cx="588.2" cy="349.7" r="7.5"/><circle cx="749.6" cy="210.3" r="7.5"/><circle cx="585.6" cy="386.0" r="7.5"/><circle cx="388.5" cy="527.2" r="7.5"/><circle cx="432.1" cy="519.6" r="7.5"/><circle cx="470.1" cy="484.9" r="7.5"/><circle cx="737.0" cy="218.9" r="7.5"/><circle cx="370.3" cy="576.2" r="7.5"/><circle cx="723.6" cy="247.7" r="7.5"/><circle cx="396.1" cy="524.9" r="7.5"/><circle cx="205.4" cy="708.7" r="7.5"/><circle cx="206.2" cy="714.1" r="7.5"/><circle cx="235.5" cy="670.9" r="7.5"/><circle cx="244.0" cy="668.6" r="7.5"/><circle cx="249.4" cy="674.0" r="7.5"/><circle cx="257.1" cy="670.9" r="7.5"/><circle cx="260.2" cy="657.1" r="7.5"/><circle cx="264.8" cy="662.5" r="7.5"/><circle cx="280.2" cy="631.6" r="7.5"/><circle cx="276.3" cy="644.0" r="7.5"/><circle cx="287.9" cy="646.3" r="7.5"/><circle cx="287.9" cy="637.8" r="7.5"/><circle cx="308.0" cy="630.9" r="7.5"/><circle cx="303.1" cy="629.5" r="7.5"/><circle cx="298.5" cy="608.7" r="7.5"/><circle cx="321.6" cy="584.0" r="7.5"/><circle cx="292.0" cy="622.0" r="7.5"/><circle cx="297.0" cy="618.0" r="7.5"/><circle cx="310.0" cy="607.0" r="7.5"/><circle cx="294.0" cy="634.0" r="7.5"/><circle cx="868.1" cy="111.5" r="7.5"/><circle cx="873.1" cy="115.0" r="7.5"/><circle cx="856.6" cy="117.9" r="7.5"/><circle cx="843.8" cy="124.3" r="7.5"/><circle cx="844.5" cy="127.9" r="7.5"/><circle cx="825.9" cy="143.0" r="7.5"/><circle cx="833.0" cy="142.2" r="7.5"/><circle cx="842.3" cy="144.4" r="7.5"/><circle cx="813.7" cy="155.1" r="7.5"/><circle cx="825.9" cy="156.6" r="7.5"/><circle cx="800.1" cy="165.1" r="7.5"/><circle cx="825.9" cy="169.4" r="7.5"/><circle cx="817.3" cy="169.4" r="7.5"/><circle cx="813.0" cy="186.6" r="7.5"/><circle cx="785.1" cy="179.5" r="7.5"/><circle cx="795.8" cy="186.6" r="7.5"/><circle cx="767.2" cy="189.5" r="7.5"/><circle cx="785.8" cy="200.9" r="7.5"/><circle cx="778.6" cy="209.5" r="7.5"/><circle cx="808.7" cy="169.4" r="7.5"/><circle cx="807.3" cy="175.2" r="7.5"/><circle cx="793.0" cy="175.2" r="7.5"/><circle cx="778.6" cy="188.0" r="7.5"/><circle cx="800.0" cy="178.0" r="7.5"/><circle cx="790.0" cy="190.0" r="7.5"/>
</g>
<g fill="none" stroke="#262626" stroke-width="1.4">
<rect x="115.2" y="15.4" width="866.4" height="774.5"/>
<path d="M331.8 789.9v-18M331.8 15.4v18M548.4 789.9v-18M548.4 15.4v18M765.0 789.9v-18M765.0 15.4v18M115.2 693.1h18M981.6 693.1h-18M115.2 596.3h18M981.6 596.3h-18M115.2 499.5h18M981.6 499.5h-18M115.2 402.6h18M981.6 402.6h-18M115.2 305.8h18M981.6 305.8h-18M115.2 209.0h18M981.6 209.0h-18M115.2 112.2h18M981.6 112.2h-18"/>
</g>
<clipPath id="axclip"><rect x="114.2" y="13.6" width="868.6" height="777.3"/></clipPath><path clip-path="url(#axclip)" d="M112.2 791.28L984.6 11.42" stroke="#deac31" stroke-width="4.8" fill="none"/>
<g class="tk" text-anchor="middle">
<text x="113.3" y="842.8">-<tspan dx="-1.2">4</tspan></text>
<text x="330.8" y="842.8">-<tspan dx="-1.2">2</tspan></text>
<text x="547.7" y="842.8">0</text>
<text x="764.4" y="842.8">2</text>
<text x="979.6" y="842.8">4</text>
</g>
<g class="tk" text-anchor="end">
<text x="100.5" y="31.3">4</text>
<text x="100.5" y="128.1">3</text>
<text x="100.5" y="224.9">2</text>
<text x="100.5" y="321.7">1</text>
<text x="100.5" y="418.5">0</text>
<text x="100.5" y="515.4">-<tspan dx="-1.2">1</tspan></text>
<text x="100.5" y="612.2">-<tspan dx="-1.2">2</tspan></text>
<text x="100.5" y="709.0">-<tspan dx="-1.2">3</tspan></text>
<text x="100.5" y="805.8">-<tspan dx="-1.2">4</tspan></text>
</g>
<rect x="213.5" y="86.8" width="176" height="100.7" fill="#fff" stroke="#262626" stroke-width="1.1"/>
<path d="M244.7 107.9l11.6 11.6m-11.6 0l11.6-11.6" stroke="#4485cf" stroke-width="1.25" fill="none"/>
<circle cx="250.5" cy="159.3" r="7.6" fill="#c1572c"/>
<text class="lg" x="286.1" y="126.9">NEP1</text>
<text class="lg" x="286.1" y="174.4">NEP2</text>
<text class="lb"><tspan x="371.0" y="894.3" textLength="92.5" lengthAdjust="spacingAndGlyphs">DFT</tspan> <tspan x="479.9" y="894.3" textLength="91.6" lengthAdjust="spacingAndGlyphs">force</tspan> <tspan style="font-size:47.7px" x="587.6" y="894.4" textLength="13.3" lengthAdjust="spacingAndGlyphs">(</tspan><tspan x="601.1" y="894.3" textLength="19.6" lengthAdjust="spacingAndGlyphs">e</tspan><tspan x="620.4" y="894.3" textLength="33.3" lengthAdjust="spacingAndGlyphs">V</tspan><tspan style="font-size:64.6px" x="656.6" y="903.9" textLength="17.0" lengthAdjust="spacingAndGlyphs">/</tspan><tspan class="it" x="680.2" y="894.3" textLength="27.3" lengthAdjust="spacingAndGlyphs">Å</tspan><tspan style="font-size:47.7px" x="709.6" y="894.4" textLength="14.1" lengthAdjust="spacingAndGlyphs">)</tspan></text>
<text class="lb" transform="translate(-851.7 950.0) rotate(-90)"><tspan x="371.0" y="894.3" textLength="91.9" lengthAdjust="spacingAndGlyphs">NEP</tspan> <tspan x="478.5" y="894.3" textLength="91.6" lengthAdjust="spacingAndGlyphs">force</tspan> <tspan style="font-size:47.7px" x="587.9" y="894.4" textLength="13.3" lengthAdjust="spacingAndGlyphs">(</tspan><tspan x="601.4" y="894.3" textLength="19.6" lengthAdjust="spacingAndGlyphs">e</tspan><tspan x="620.7" y="894.3" textLength="33.3" lengthAdjust="spacingAndGlyphs">V</tspan><tspan style="font-size:64.6px" x="656.9" y="903.9" textLength="17.0" lengthAdjust="spacingAndGlyphs">/</tspan><tspan class="it" x="680.5" y="894.3" textLength="27.3" lengthAdjust="spacingAndGlyphs">Å</tspan><tspan style="font-size:47.7px" x="709.9" y="894.4" textLength="14.1" lengthAdjust="spacingAndGlyphs">)</tspan></text>
</svg></body></html>
